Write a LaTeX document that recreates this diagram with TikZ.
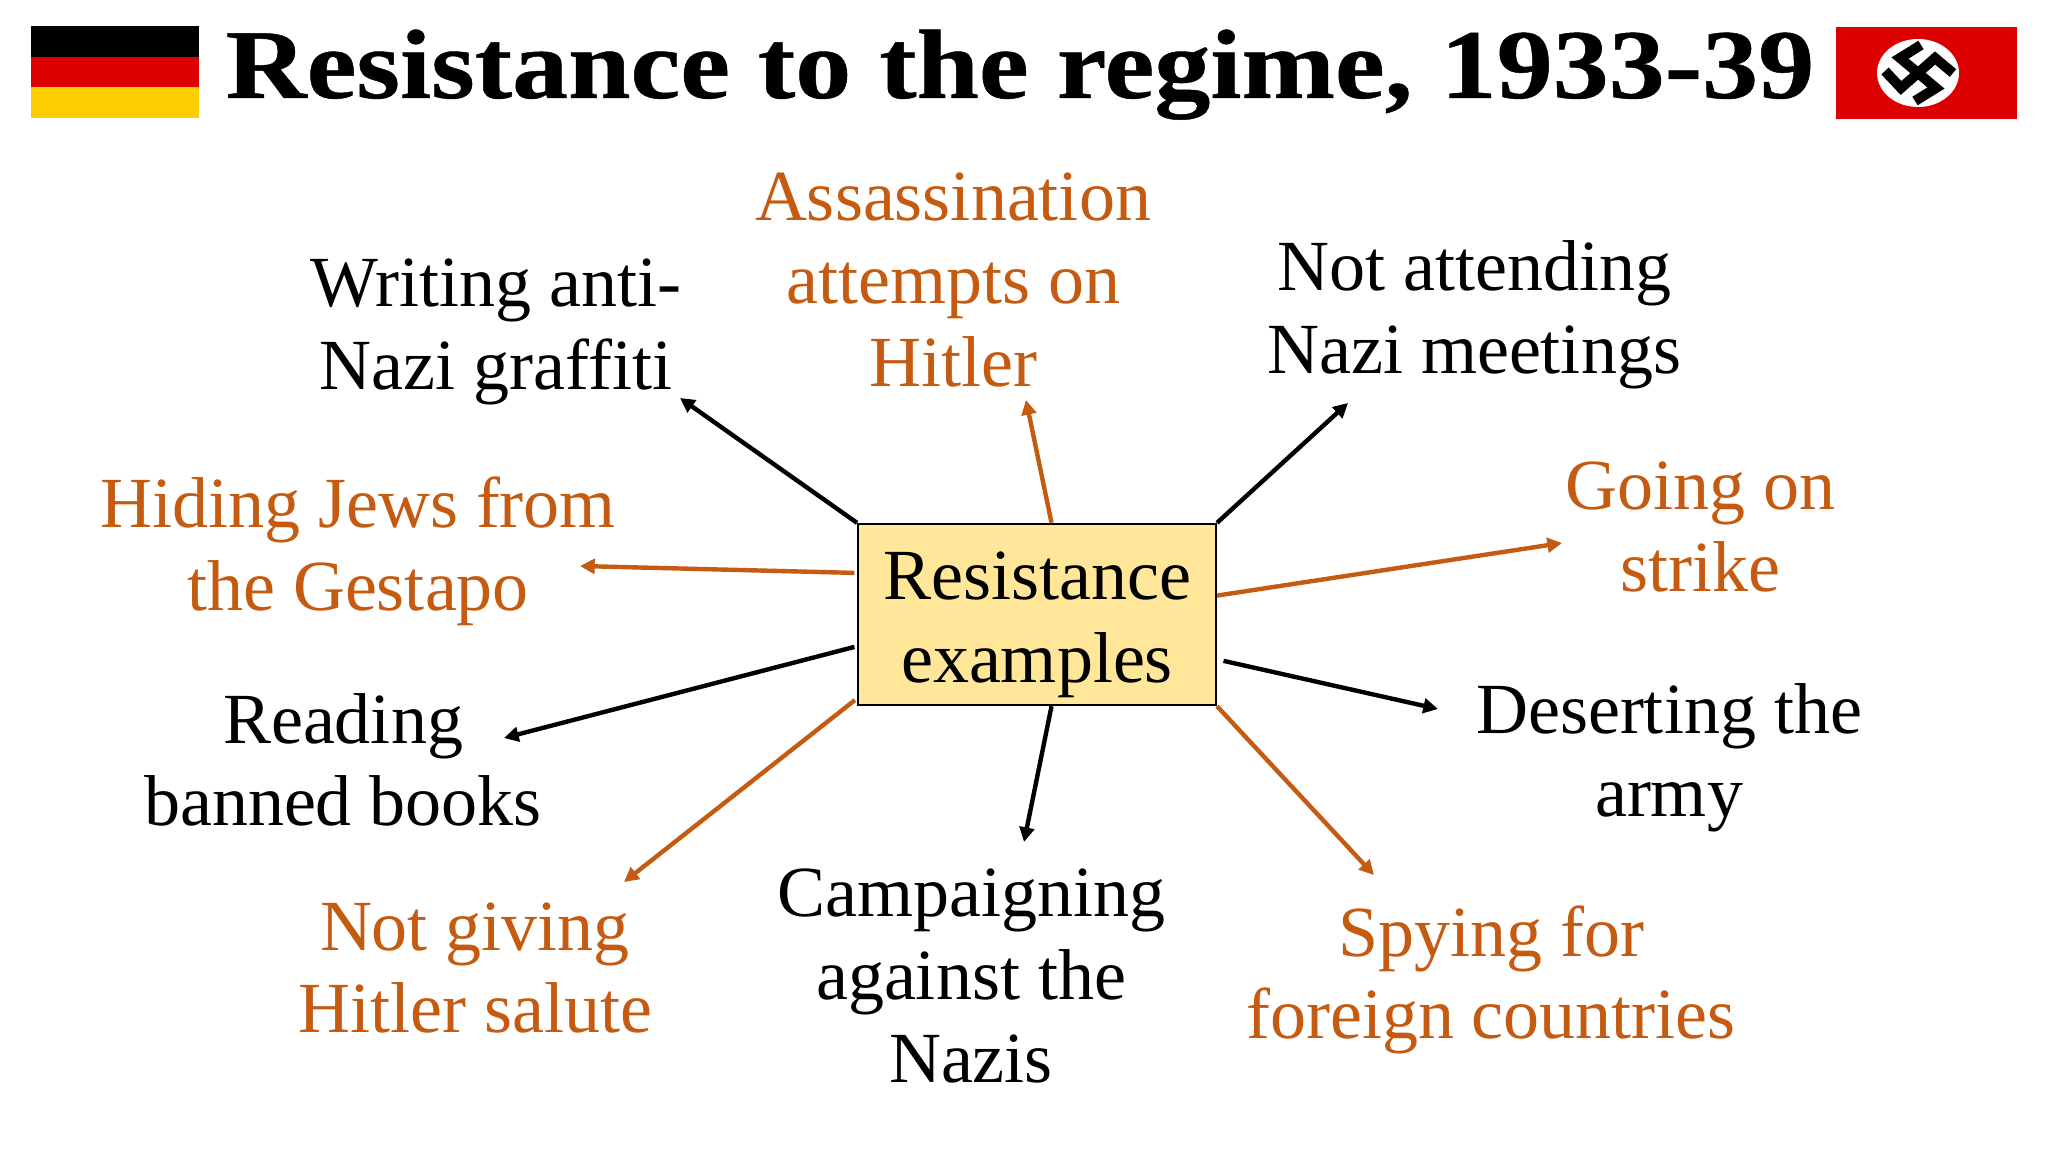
\documentclass[tikz,border=0pt]{standalone}
\usepackage{fontspec}
\setmainfont{Liberation Serif}
\newfontfamily\titlefont[FakeStretch=1.136,FakeBold=0.5]{Liberation Serif}
\usetikzlibrary{arrows.meta}
\definecolor{rust}{HTML}{C55A11}
\definecolor{boxfill}{HTML}{FFE699}
\definecolor{flagred}{HTML}{DD0000}
\definecolor{flaggold}{HTML}{FFCE00}
\begin{document}
\begin{tikzpicture}[
        x=0.75pt, y=-0.75pt,
        item/.style={align=center, font=\fontsize{54}{62}\selectfont, inner sep=0pt},
        itemB/.style={item, text=black},
        itemO/.style={item, text=rust},
        arrowB/.style={-{Triangle[length=11pt, width=11pt]}, black, line width=3.3pt},
        arrowO/.style={-{Triangle[length=11pt, width=11pt]}, rust, line width=3.3pt}
    ]
    \useasboundingbox (0,0) rectangle (2048,1152);
    % Flags
    \fill[black] (31,26) rectangle (199,57);
    \fill[flagred] (31,57) rectangle (199,87);
    \fill[flaggold] (31,87) rectangle (199,118);
    \fill[flagred] (1836,27) rectangle (2017,119);
    \fill[white] (1918,73) ellipse [x radius=41, y radius=34];
    \begin{scope}[shift={(1918,73)}]
        \draw[line width=7.5pt, miter limit=4] (0,0) -- (17,-15) -- (35,0);
        \draw[line width=7.5pt, miter limit=4] (0,0) -- (-17,15) -- (-33,-2);
        \draw[line width=7.5pt, miter limit=4] (0,0) -- (-18,-15) -- (3,-28);
        \draw[line width=7.5pt, miter limit=4] (0,0) -- (18,15) -- (-3,28);
    \end{scope}
    % Nodes
    \node[anchor=base, font=\titlefont\bfseries\fontsize{74}{80}\selectfont] (title) at (1020,98) {Resistance to the regime, 1933-39};
    \node[draw=black, line width=1.5pt, fill=boxfill, minimum width=268.5pt, minimum height=136pt, item] (resist) at (1037,614.5) {\rule{0pt}{51pt}Resistance\\examples};
    \node[itemB] (graffiti) at (496,332) {Writing anti-\\Nazi graffiti};
    \node[itemO] (assassin) at (953,280) {Assassination\\attempts on\\Hitler};
    \node[itemB] (meetings) at (1474,315) {Not attending\\Nazi meetings};
    \node[itemO] (strike) at (1700,527) {Going on\\strike};
    \node[itemB] (army) at (1669,758) {Deserting the\\army};
    \node[itemO] (spying) at (1491,980) {Spying for\\foreign countries};
    \node[itemB] (campaign) at (971,976) {Campaigning\\against the\\Nazis};
    \node[itemO] (salute) at (475,968) {Not giving\\Hitler salute};
    \node[itemB] (books) at (343,760) {Reading\\banned books};
    \node[itemO] (hiding) at (358,551) {Hiding Jews from\\the Gestapo};
    % Arrow tips
    \coordinate (tipGraffiti) at (680,398);
    \coordinate (tipAssassin) at (1026,400);
    \coordinate (tipMeetings) at (1348,403);
    \coordinate (tipStrike) at (1562,543);
    \coordinate (tipArmy) at (1438,709);
    \coordinate (tipSpying) at (1374,875);
    \coordinate (tipCampaign) at (1024,842);
    \coordinate (tipSalute) at (624,882);
    \coordinate (tipBooks) at (504,738);
    \coordinate (tipHiding) at (580,566);
    % Edges
    \draw[arrowB] (resist.north west) -- (tipGraffiti);
    \draw[arrowO] (resist.81) -- (tipAssassin);
    \draw[arrowB] (resist.north east) -- (tipMeetings);
    \draw[arrowO] (resist.6) -- (tipStrike);
    \draw[arrowB, shorten <=5pt] (resist.-14) -- (tipArmy);
    \draw[arrowO] (resist.south east) -- (tipSpying);
    \draw[arrowB] (resist.-81) -- (tipCampaign);
    \draw[arrowO, shorten <=2pt] (resist.205) -- (tipSalute);
    \draw[arrowB, shorten <=2pt] (resist.190) -- (tipBooks);
    \draw[arrowO, shorten <=2pt] (resist.167) -- (tipHiding);
\end{tikzpicture}
\end{document}
